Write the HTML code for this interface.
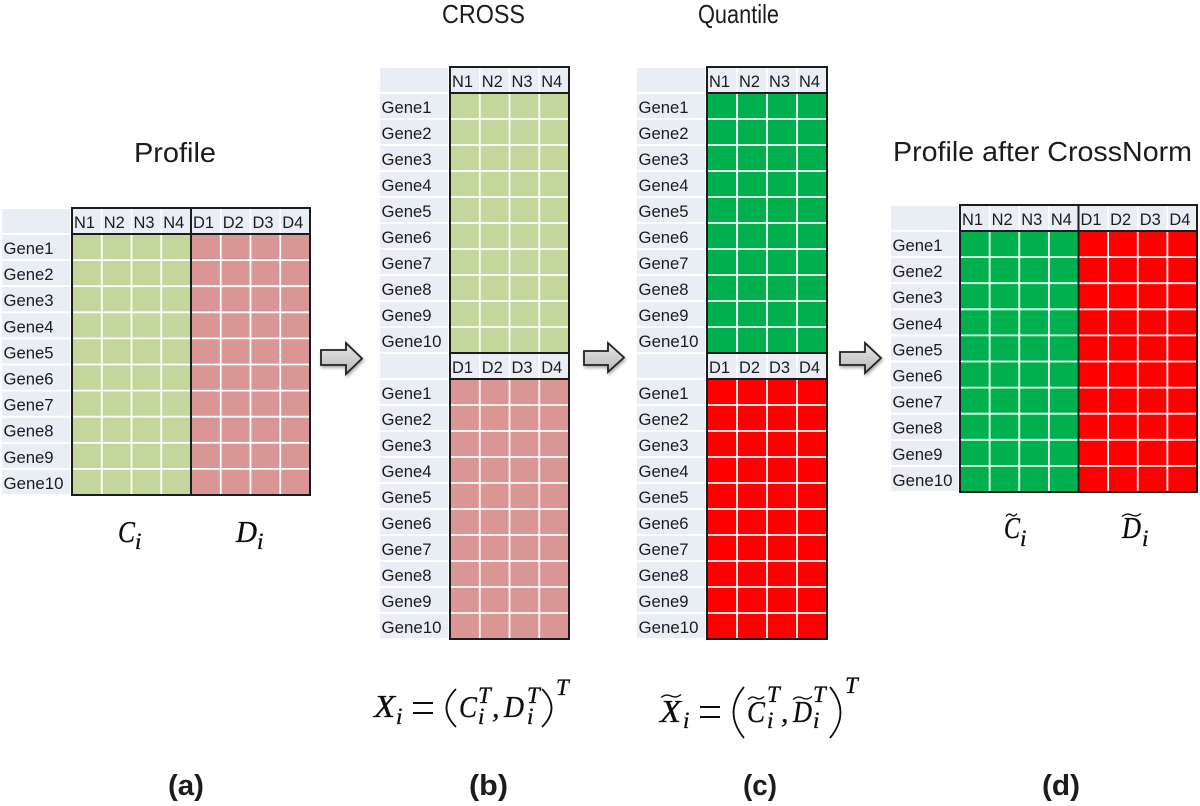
<!DOCTYPE html>
<html lang="en">
<head>
<meta charset="utf-8">
<title>CrossNorm workflow</title>
<style>
html,body{margin:0;padding:0;background:#fff;}
svg{display:block;}
.s{font-family:"Liberation Sans",sans-serif;fill:#1c1c1c;}
.m{font-family:"Liberation Serif",serif;font-style:italic;fill:#111;stroke:#111;stroke-width:.35px;}
</style>
</head>
<body>
<svg id="fig" xmlns="http://www.w3.org/2000/svg" width="1200" height="806" viewBox="0 0 1200 806">
<defs>
<linearGradient id="ag" x1="0" y1="0" x2="0" y2="1"><stop offset="0" stop-color="#e6e6e6"/><stop offset="1" stop-color="#b8b8b8"/></linearGradient>
<filter id="soft" x="-2%" y="-2%" width="104%" height="104%"><feGaussianBlur stdDeviation="0.35"/></filter>
</defs>
<g id="root" filter="url(#soft)"></g>
</svg>
<script>
const genes = ['Gene1','Gene2','Gene3','Gene4','Gene5','Gene6','Gene7','Gene8','Gene9','Gene10'];
const normalSamples = ['N1','N2','N3','N4'];
const diseaseSamples = ['D1','D2','D3','D4'];
const panelLetters = ['(a)','(b)','(c)','(d)'];

const NS = 'http://www.w3.org/2000/svg';
const root = document.getElementById('root');
const LIGHT_GREEN = '#c3d69b', LIGHT_RED = '#d99694', GREEN = '#00b050', RED = '#ff0000', HEAD = '#e9edf4';
const GRID_W = 1.8, FRAME_W = 2;

function el(tag, attrs, parent) {
  const e = document.createElementNS(NS, tag);
  for (const k in attrs) e.setAttribute(k, attrs[k]);
  (parent || root).appendChild(e);
  return e;
}
function txt(parent, str, x, y, size, cls, len, extra) {
  const t = el('text', Object.assign({x: x, y: y, 'font-size': size, class: cls}, extra || {}), parent);
  if (len) {
    t.setAttribute('textLength', len);
    t.setAttribute('lengthAdjust', 'spacingAndGlyphs');
  }
  t.textContent = str;
  
  
  return t;
}
function outline(parent, x, y, w, h) {
  el('rect', {x: x, y: y, width: w, height: h, fill: 'none', stroke: '#1a1a1a', 'stroke-width': FRAME_W}, parent);
}

function block(name, samples, labelX, x, w, top, headH, rowH, fill) {
  const g = el('g', {});
  
  
  const cw = w / samples.length;
  el('rect', {x: labelX, y: top + 1, width: x - labelX - 2, height: headH - 2, fill: HEAD}, g);
  el('rect', {x: x, y: top, width: w, height: headH, fill: HEAD}, g);
  samples.forEach((s, i) => {
    txt(g, s, x + i * cw + 2, top + 20, 17, 's', 21);
    if (i > 0) el('line', {x1: x + i * cw, x2: x + i * cw, y1: top + 1, y2: top + headH - 1, stroke: '#fff', 'stroke-width': 1.5}, g);
  });
  const bodyTop = top + headH;
  const bodyH = rowH * genes.length;
  el('rect', {x: x, y: bodyTop, width: w, height: bodyH, fill: fill}, g);
  genes.forEach((gene, r) => {
    const y = bodyTop + r * rowH;
    el('rect', {x: labelX, y: y + 1, width: x - labelX - 2, height: rowH - 2, fill: HEAD}, g);
    txt(g, gene, labelX + 1.5, y + 20, 17, 's', gene.length > 5 ? 60 : 50);
    if (r > 0) el('line', {x1: x, x2: x + w, y1: y, y2: y, stroke: '#fff', 'stroke-width': GRID_W}, g);
  });
  for (let i = 1; i < samples.length; i++) {
    el('line', {x1: x + i * cw, x2: x + i * cw, y1: bodyTop, y2: bodyTop + bodyH, stroke: '#fff', 'stroke-width': GRID_W}, g);
  }
  return {bodyTop: bodyTop, bottom: bodyTop + bodyH};
}

function stacked(name, labelX, x, w, top, headH, rowH, cA, cB) {
  const a = block(name + '-normal', normalSamples, labelX, x, w, top, headH, rowH, cA);
  const b = block(name + '-disease', diseaseSamples, labelX, x, w, a.bottom, headH, rowH, cB);
  const o = el('g', {});
  
  
  outline(o, x, top, w, headH);
  outline(o, x, top + headH, w, rowH * genes.length);
  outline(o, x, a.bottom, w, headH);
  outline(o, x, b.bodyTop, w, rowH * genes.length);
}

function paired(name, labelX, x, w, top, headH, rowH, cA, cB) {
  const half = w / 2;
  const g = el('g', {});
  
  
  const cw = half / normalSamples.length;
  const bodyTop = top + headH;
  const bodyH = rowH * genes.length;
  el('rect', {x: labelX, y: top + 1, width: x - labelX - 2, height: headH - 2, fill: HEAD}, g);
  el('rect', {x: x, y: top, width: w, height: headH, fill: HEAD}, g);
  el('rect', {x: x, y: bodyTop, width: half, height: bodyH, fill: cA}, g);
  el('rect', {x: x + half, y: bodyTop, width: half, height: bodyH, fill: cB}, g);
  normalSamples.concat(diseaseSamples).forEach((s, i) => {
    const cx = x + i * cw;
    txt(g, s, cx + 2, top + 20, 17, 's', 21);
    if (i > 0 && i !== normalSamples.length) {
      el('line', {x1: cx, x2: cx, y1: top + 1, y2: top + headH - 1, stroke: '#fff', 'stroke-width': 1.5}, g);
      el('line', {x1: cx, x2: cx, y1: bodyTop, y2: bodyTop + bodyH, stroke: '#fff', 'stroke-width': GRID_W}, g);
    }
  });
  genes.forEach((gene, r) => {
    const y = bodyTop + r * rowH;
    el('rect', {x: labelX, y: y + 1, width: x - labelX - 2, height: rowH - 2, fill: HEAD}, g);
    txt(g, gene, labelX + 1.5, y + 20, 17, 's', gene.length > 5 ? 60 : 50);
    if (r > 0) el('line', {x1: x, x2: x + w, y1: y, y2: y, stroke: '#fff', 'stroke-width': GRID_W}, g);
  });
  outline(g, x, top, w, headH);
  outline(g, x, bodyTop, w, bodyH);
  el('line', {x1: x + half, x2: x + half, y1: top, y2: bodyTop + bodyH, stroke: '#1a1a1a', 'stroke-width': FRAME_W}, g);
}

paired('profile-table', 2, 72, 238, 208, 26, 26.1, LIGHT_GREEN, LIGHT_RED);
stacked('cross-table', 380, 450, 119, 67, 26, 26, LIGHT_GREEN, LIGHT_RED);
stacked('quantile-table', 637, 707, 120, 67, 26, 26, GREEN, RED);
paired('crossnorm-table', 891, 960, 237, 205, 26, 26.1, GREEN, RED);

/* titles */
function title(str, x, y, size, len) {
  const t = txt(root, str, x, y, size, 's', len);
  
  
}
title('Profile', 134, 162, 28, 82);
title('CROSS', 442, 23, 26, 83);
title('Quantile', 698, 23, 26, 81);
title('Profile after CrossNorm', 893, 161, 28, 299);

/* arrows */
function arrow(name, x0, x1, xh, yTop, yBot, s0, s1) {
  const d = `M${x0} ${s0}H${xh}V${yTop}L${x1} ${(yTop + yBot) / 2}L${xh} ${yBot}V${s1}H${x0}Z`;
  const p = el('path', {d: d, fill: 'url(#ag)', stroke: '#222', 'stroke-width': 1.8, 'stroke-linejoin': 'miter'});
  
  
  p.setAttribute('style', 'filter:drop-shadow(1px 2px 1.5px rgba(0,0,0,.35))');
}
arrow('arrow-a-to-b', 321, 362, 346, 343, 374, 350, 365);
arrow('arrow-b-to-c', 584, 624, 608, 343, 372, 351, 365);
arrow('arrow-c-to-d', 840, 881, 865, 343, 373, 352, 365);

/* formula helpers */
function mi(g, s, x, y, size, len) { return txt(g, s, x, y, size, 'm', len); }
function tilde(g, x, y, w) {
  const p = el('path', {d: `M${x} ${y + 1.5}q${w * 0.25} -4 ${w * 0.5} -1.5t${w * 0.5} -1.5`, fill: 'none', stroke: '#111', 'stroke-width': 1.4}, g);
  
  
}
function group(name) {
  const g = el('g', {});
  
  
  return g;
}
function paren(g, s, x, yTop, yBot, w) {
  const m = (yTop + yBot) / 2;
  const d = s === '(' ? `M${x + w} ${yTop}Q${x - w * 0.9} ${m} ${x + w} ${yBot}` : `M${x} ${yTop}Q${x + w * 1.9} ${m} ${x} ${yBot}`;
  const p = el('path', {d: d, fill: 'none', stroke: '#111', 'stroke-width': 1.8}, g);
  
  
}
function eq(g, x, yMid, w) {
  const e = el('g', {stroke: '#111', 'stroke-width': 2}, g);
  
  
  el('line', {x1: x, x2: x + w, y1: yMid - 5, y2: yMid - 5}, e);
  el('line', {x1: x, x2: x + w, y1: yMid + 5, y2: yMid + 5}, e);
}

const m1 = group('label-c-i');
mi(m1, 'C', 118, 542, 31, 17);
mi(m1, 'i', 135, 549, 23);
const m2 = group('label-d-i');
mi(m2, 'D', 236, 542, 31, 21);
mi(m2, 'i', 257, 549, 23);

const m3 = group('label-c-tilde-i');
mi(m3, 'C', 1004, 538, 31, 16); tilde(m3, 1006, 515, 11);
mi(m3, 'i', 1020, 546, 23);
const m4 = group('label-d-tilde-i');
mi(m4, 'D', 1122, 538, 31, 19); tilde(m4, 1122, 515, 19);
mi(m4, 'i', 1142, 546, 23);

const f1 = group('formula-x-i');
mi(f1, 'X', 374, 717, 32, 21);
mi(f1, 'i', 396, 724, 23);
eq(f1, 413, 708, 20);
paren(f1, '(', 446, 689, 727, 10);
mi(f1, 'C', 459, 717, 31, 18);
mi(f1, 'T', 478, 703, 23);
mi(f1, 'i', 478, 724, 23);
mi(f1, ',', 492, 717, 30);
mi(f1, 'D', 504, 717, 31, 20);
mi(f1, 'T', 527, 703, 23);
mi(f1, 'i', 527, 724, 23);
paren(f1, ')', 542, 689, 727, 10);
mi(f1, 'T', 556, 695, 23);

const f2 = group('formula-x-tilde-i');
mi(f2, 'X', 660, 722, 32, 21); tilde(f2, 661, 696, 20);
mi(f2, 'i', 683, 728, 23);
eq(f2, 700, 712, 20);
paren(f2, '(', 733, 687, 738, 11);
mi(f2, 'C', 747, 722, 31, 18); tilde(f2, 748, 698, 16);
mi(f2, 'T', 767, 702, 23);
mi(f2, 'i', 767, 728, 23);
mi(f2, ',', 781, 722, 30);
mi(f2, 'D', 793, 722, 31, 19); tilde(f2, 793, 698, 19);
mi(f2, 'T', 813, 702, 23);
mi(f2, 'i', 813, 728, 23);
paren(f2, ')', 830, 687, 738, 11);
mi(f2, 'T', 845, 693, 23);

/* panel letters */
const letterX = [168, 469, 743, 1042];
const letterW = [36, 39, 34, 38];
panelLetters.forEach((s, i) => {
  const t = txt(root, s, letterX[i], 795, 29, 's', letterW[i], {'font-weight': 'bold'});
  
  
});
</script>
</body>
</html>
